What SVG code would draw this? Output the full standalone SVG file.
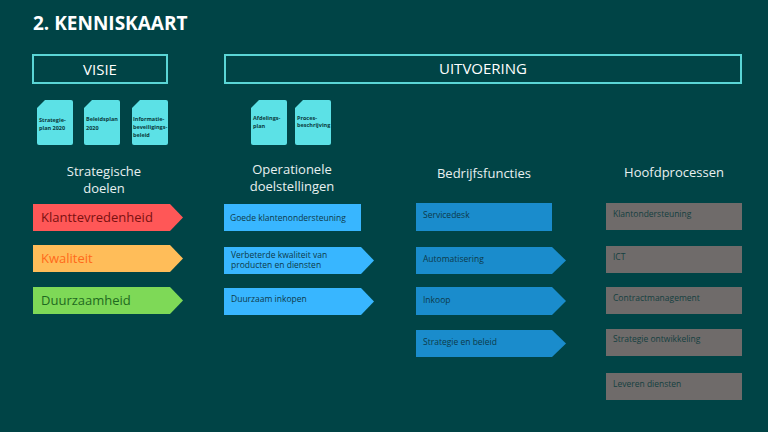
<svg xmlns="http://www.w3.org/2000/svg" width="768" height="432" viewBox="0 0 768 432">
<style>
text{font-family:"Open Sans","Noto Sans",sans-serif}
.hdr{fill:none;stroke:#5ad6d6;stroke-width:2}
.ht{fill:#fff;font-size:15px;text-anchor:middle}
.doc{fill:#5ce1e6}
.dt{font-size:5.5px;fill:#0a3a3c;font-weight:bold}
.col{fill:#e8f0f0;font-size:13px;text-anchor:middle}
.op{fill:#38b6ff}
.bf{fill:#1a8ccc}
.hp{fill:#6f6b6a}
.bt{font-size:8.5px;fill:#0d3a4a}
.ht2{font-size:8.5px;fill:#153f40}
</style>
<rect width="768" height="432" fill="#004446"/>
<text x="33" y="30" fill="#fff" font-size="19" font-weight="bold">2. KENNISKAART</text>
<g id="visie"><rect class="hdr" x="33" y="55" width="134" height="28"/><text class="ht" x="100" y="75">VISIE</text></g>
<g id="uitvoering"><rect class="hdr" x="225" y="55" width="516" height="28"/><text class="ht" x="483" y="74">UITVOERING</text></g>
<defs><path id="d" d="M8,0H34a2,2 0 0 1 2,2V43a2,2 0 0 1-2,2H2a2,2 0 0 1-2-2V8Z"/></defs>
<g id="doc1"><use href="#d" class="doc" x="37" y="100"/><text class="dt" x="39" y="122">Strategie-</text><text class="dt" x="39" y="130">plan  2020</text></g>
<g id="doc2"><use href="#d" class="doc" x="84" y="100"/><text class="dt" x="86" y="121">Beleidsplan</text><text class="dt" x="86" y="130">2020</text></g>
<g id="doc3"><use href="#d" class="doc" x="132" y="100"/><text class="dt" x="133" y="121">Informatie-</text><text class="dt" x="133" y="129">beveiligings-</text><text class="dt" x="133" y="137">beleid</text></g>
<g id="doc4"><use href="#d" class="doc" x="251" y="100"/><text class="dt" x="253" y="120">Afdelings-</text><text class="dt" x="253" y="128">plan</text></g>
<g id="doc5"><use href="#d" class="doc" x="295" y="100"/><text class="dt" x="297" y="120">Proces-</text><text class="dt" x="297" y="127">beschrijving</text></g>
<text class="col" x="104" y="176">Strategische</text><text class="col" x="104" y="193">doelen</text>
<text class="col" x="292" y="174" font-size="12">Operationele</text><text class="col" x="292" y="191" font-size="12">doelstellingen</text>
<text class="col" x="484" y="178">Bedrijfsfuncties</text>
<text class="col" x="674" y="177">Hoofdprocessen</text>
<g id="s1"><path d="M33,204H170L183,217.5L170,231H33Z" fill="#ff5757"/><text x="41" y="222" font-size="13" fill="#7a1010">Klanttevredenheid</text></g>
<g id="s2"><path d="M33,245H170L183,258.5L170,272H33Z" fill="#ffbd59"/><text x="41" y="263" font-size="13" fill="#ff6a1a">Kwaliteit</text></g>
<g id="s3"><path d="M33,287H170L183,300.5L170,314H33Z" fill="#7ed957"/><text x="41" y="305" font-size="13" fill="#1e6a20">Duurzaamheid</text></g>
<g id="o1"><rect class="op" x="224" y="204" width="137" height="27"/><text class="bt" x="230" y="221">Goede klantenondersteuning</text></g>
<g id="o2"><path class="op" d="M224,247H361L374,260.5L361,274H224Z"/><text class="bt" x="231" y="258" font-size="8">Verbeterde kwaliteit van</text><text class="bt" x="231" y="268" font-size="8">producten en diensten</text></g>
<g id="o3"><path class="op" d="M224,288H361L374,301.5L361,315H224Z"/><text class="bt" x="231" y="302">Duurzaam inkopen</text></g>
<g id="b1"><rect class="bf" x="416" y="203" width="136" height="28"/><text class="bt" x="423" y="218">Servicedesk</text></g>
<g id="b2"><path class="bf" d="M416,247H552L566,260.5L552,274H416Z"/><text class="bt" x="423" y="262">Automatisering</text></g>
<g id="b3"><path class="bf" d="M416,287H552L566,301L552,315H416Z"/><text class="bt" x="423" y="303">Inkoop</text></g>
<g id="b4"><path class="bf" d="M416,330H552L566,343.5L552,357H416Z"/><text class="bt" x="423" y="345">Strategie en beleid</text></g>
<g id="h1"><rect class="hp" x="606" y="203" width="136" height="27"/><text class="ht2" x="613" y="217">Klantondersteuning</text></g>
<g id="h2"><rect class="hp" x="606" y="246" width="136" height="27"/><text class="ht2" x="613" y="260">ICT</text></g>
<g id="h3"><rect class="hp" x="606" y="287" width="136" height="27"/><text class="ht2" x="613" y="301">Contractmanagement</text></g>
<g id="h4"><rect class="hp" x="606" y="329" width="136" height="27"/><text class="ht2" x="613" y="342">Strategie ontwikkeling</text></g>
<g id="h5"><rect class="hp" x="606" y="373" width="136" height="27"/><text class="ht2" x="613" y="387">Leveren diensten</text></g>
<g id="connectors"/>
</svg>
